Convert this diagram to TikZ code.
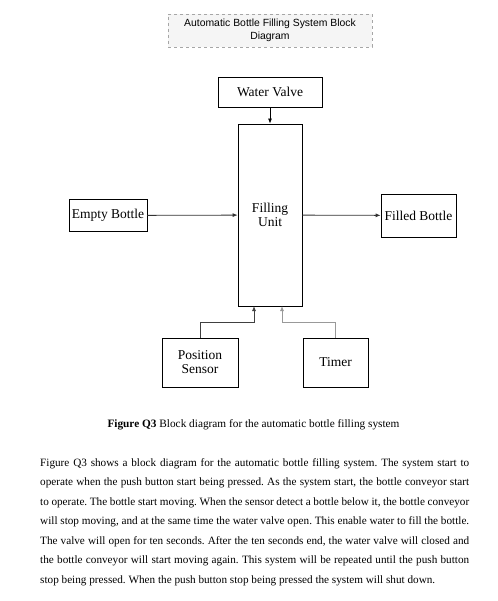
\documentclass[tikz,border=0pt]{standalone}
\usepackage{fontspec}
\setmainfont{Liberation Serif}
\newfontfamily\headfont[Ligatures=NoCommon]{Liberation Sans}
\usepackage{tikz}
\usetikzlibrary{arrows.meta,positioning,calc}
\frenchspacing

\begin{document}
\begin{tikzpicture}[x=1pt,y=-1pt,
    block/.style={rectangle, draw=black, line width=0.8pt, inner sep=0pt, align=center,
      font=\fontsize{13.5}{14}\selectfont},
    arr/.style={-{Latex[length=5pt,width=4pt]}, line width=0.8pt}]
  \useasboundingbox [fill=white] (0,0) rectangle (497,601);

  \node (title) [rectangle, draw=gray!70, dashed, fill=gray!8, line width=0.8pt, minimum width=204pt, minimum height=33pt, inner sep=0pt, align=center, font=\headfont\fontsize{10.4}{12.5}\selectfont] at (270,30.5) {Automatic Bottle Filling System Block\\Diagram};
  \node (valve) [block, minimum width=104pt, minimum height=30pt] at (270,92) {Water Valve};
  \node (unit) [block, minimum width=64pt, minimum height=182pt] at (270,215) {Filling\\Unit};
  \node (empty) [block, minimum width=78pt, minimum height=32pt] at (108,215.5) {Empty Bottle};
  \node (filled) [block, minimum width=75pt, minimum height=43pt] at (418.5,215.5) {Filled Bottle};
  \node (sensor) [block, minimum width=76pt, minimum height=49pt] at (200,362.5) {Position\\Sensor};
  \node (timer) [block, minimum width=65pt, minimum height=49pt] at (335.5,362.5) {Timer};

  \coordinate (sIn) at (254,306);
  \coordinate (tIn) at (282,306);

  \path [arr]
  (valve) edge [draw=black] node {} (unit)
  (empty) edge [draw=black!80] node {} (unit)
  (unit) edge [draw=black!80] node {} (filled);
  \draw [arr, draw=black!75] (sensor.north) -- ++(0,-15) -| (sIn);
  \draw [arr, draw=black!40] (timer.north) -- ++(0,-15) -| (tIn);

  \node (caption) [anchor=base, inner sep=0pt, font=\fontsize{11.3}{13}\selectfont] at (253.5,427) {\textbf{Figure Q3} Block diagram for the automatic bottle filling system};
  \node (text) [anchor=north west, inner sep=0pt, text width=429pt, align=justify, font=\fontsize{11.2}{19.5}\selectfont] at (40,458) {Figure Q3 shows a block diagram for the automatic bottle filling system. The system start to\linebreak operate when the push button start being pressed. As the system start, the bottle conveyor start\linebreak to operate. The bottle start moving. When the sensor detect a bottle below it, the bottle conveyor\linebreak will stop moving, and at the same time the water valve open. This enable water to fill the bottle.\linebreak The valve will open for ten seconds. After the ten seconds end, the water valve will closed and\linebreak the bottle conveyor will start moving again. This system will be repeated until the push button\linebreak stop being pressed. When the push button stop being pressed the system will shut down.};
\end{tikzpicture}
\end{document}
